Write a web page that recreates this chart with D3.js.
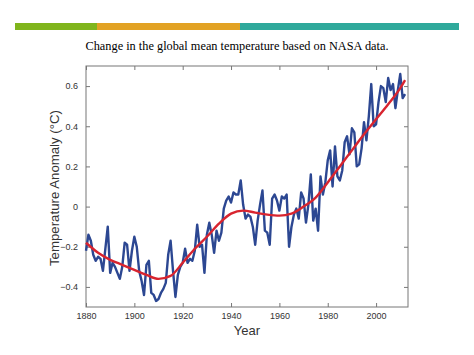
<!DOCTYPE html>
<html>
<head>
<meta charset="utf-8">
<script src="https://cdn.jsdelivr.net/npm/d3@7"></script>
<style>
  html, body { margin: 0; padding: 0; background: #fff; }
  svg { display: block; }
</style>
</head>
<body>
<svg id="chart" width="474" height="355"></svg>
<script>
const title = "Change in the global mean temperature based on NASA data.";
const xLabel = "Year";
const yLabel = "Temperature Anomaly (\u00B0C)";
const xTicks = [1880, 1900, 1920, 1940, 1960, 1980, 2000];
const yTicks = [-0.4, -0.2, 0, 0.2, 0.4, 0.6];
const years = d3.range(1880, 2013);
const anomaly = [
  -0.22, -0.14, -0.17, -0.24, -0.27, -0.25, -0.26, -0.32, -0.21, -0.10,
  -0.33, -0.28, -0.30, -0.33, -0.36, -0.30, -0.18, -0.19, -0.32, -0.22,
  -0.15, -0.20, -0.32, -0.37, -0.44, -0.29, -0.27, -0.43, -0.44, -0.47,
  -0.46, -0.43, -0.41, -0.38, -0.24, -0.17, -0.32, -0.45, -0.34, -0.30,
  -0.28, -0.21, -0.28, -0.26, -0.27, -0.22, -0.09, -0.20, -0.19, -0.33,
  -0.14, -0.08, -0.14, -0.23, -0.12, -0.17, -0.13, -0.01, 0.03, 0.05,
  0.02, 0.07, 0.06, 0.06, 0.13, 0.01, -0.06, -0.04, -0.05, -0.10,
  -0.19, -0.07, 0.01, 0.08, -0.12, -0.13, -0.19, 0.04, 0.06, 0.03,
  -0.02, 0.05, 0.04, 0.06, -0.20, -0.10, -0.04, -0.01, -0.06, 0.07,
  0.04, -0.08, 0.01, 0.16, -0.07, -0.01, -0.12, 0.15, 0.06, 0.12,
  0.23, 0.28, 0.10, 0.30, 0.15, 0.13, 0.18, 0.32, 0.35, 0.26,
  0.39, 0.37, 0.20, 0.21, 0.29, 0.42, 0.33, 0.45, 0.61, 0.40,
  0.41, 0.52, 0.60, 0.59, 0.52, 0.64, 0.58, 0.61, 0.49, 0.58,
  0.66, 0.54, 0.56
];
const smoothYears = [1880, 1885, 1890, 1895, 1900, 1905, 1910, 1915, 1920, 1925, 1930, 1935, 1940, 1945, 1950, 1955, 1960, 1965, 1970, 1975, 1980, 1985, 1990, 1995, 2000, 2005, 2010, 2012];
const smoothValues = [-0.18, -0.23, -0.265, -0.29, -0.315, -0.34, -0.36, -0.345, -0.28, -0.21, -0.15, -0.085, -0.035, -0.02, -0.03, -0.04, -0.045, -0.035, 0.0, 0.045, 0.12, 0.2, 0.28, 0.36, 0.435, 0.51, 0.59, 0.63];
const barColors = ["#80b51c", "#e2a224", "#2fa99b"];
const barStops = [15, 97, 240, 459];

const svg = d3.select("#chart");

// top decorative bar
barColors.forEach((c, i) => {
  svg.append("rect")
    .attr("x", barStops[i]).attr("y", 23)
    .attr("width", barStops[i + 1] - barStops[i]).attr("height", 7)
    .attr("fill", c);
});

svg.append("text")
  .attr("x", 237).attr("y", 50)
  .attr("text-anchor", "middle")
  .attr("font-family", "Liberation Serif, serif")
  .attr("font-size", 13)
  .attr("textLength", 303)
  .attr("lengthAdjust", "spacingAndGlyphs")
  .attr("fill", "#000")
  .text(title);

const L = 86, R = 408, T = 66, B = 307;
const x = d3.scaleLinear().domain([1880, 2013.2]).range([L, R]);
const y = d3.scaleLinear().domain([-0.5, 0.7]).range([B, T]);

const axisColor = "#777";
const fontFam = "Liberation Sans, Arial, sans-serif";

// frame
svg.append("rect").attr("x", L).attr("y", T).attr("width", R - L).attr("height", B - T)
  .attr("fill", "none").attr("stroke", axisColor).attr("stroke-width", 1);

function styleAxis(g, showText) {
  g.select(".domain").remove();
  g.selectAll(".tick line").attr("stroke", axisColor);
  g.selectAll(".tick text").attr("fill", "#333").attr("font-family", fontFam).attr("font-size", 9)
    .style("display", showText ? null : "none");
}

svg.append("g").attr("transform", `translate(0,${B})`)
  .call(d3.axisBottom(x).tickValues(xTicks).tickFormat(d3.format("d")).tickSizeInner(-4).tickPadding(6))
  .call(g => styleAxis(g, true));
svg.append("g").attr("transform", `translate(0,${T})`)
  .call(d3.axisTop(x).tickValues(xTicks).tickSizeInner(-4))
  .call(g => styleAxis(g, false));
svg.append("g").attr("transform", `translate(${L},0)`)
  .call(d3.axisLeft(y).tickValues(yTicks).tickFormat(d => d === 0 ? "0" : d3.format(".1f")(d)).tickSizeInner(-4).tickPadding(8))
  .call(g => styleAxis(g, true));
svg.append("g").attr("transform", `translate(${R},0)`)
  .call(d3.axisRight(y).tickValues(yTicks).tickSizeInner(-4))
  .call(g => styleAxis(g, false));

// data line
const line = d3.line().x(d => x(d[0])).y(d => y(d[1]));
svg.append("path")
  .datum(years.map((yr, i) => [yr, anomaly[i]]))
  .attr("d", line)
  .attr("fill", "none").attr("stroke", "#2c4792").attr("stroke-width", 2.4)
  .attr("stroke-linejoin", "round");

const smoothLine = d3.line().curve(d3.curveMonotoneX).x(d => x(d[0])).y(d => y(d[1]));
svg.append("path")
  .datum(smoothYears.map((yr, i) => [yr, smoothValues[i]]))
  .attr("d", smoothLine)
  .attr("fill", "none").attr("stroke", "#d8242f").attr("stroke-width", 2.4);

// axis labels
svg.append("text")
  .attr("x", 247).attr("y", 335)
  .attr("text-anchor", "middle")
  .attr("font-family", fontFam).attr("font-size", 13).attr("fill", "#333")
  .text(xLabel);
svg.append("text")
  .attr("transform", `translate(59,188) rotate(-90)`)
  .attr("text-anchor", "middle")
  .attr("font-family", fontFam).attr("font-size", 13).attr("fill", "#333")
  .attr("textLength", 156).attr("lengthAdjust", "spacingAndGlyphs")
  .text(yLabel);
</script>
</body>
</html>
